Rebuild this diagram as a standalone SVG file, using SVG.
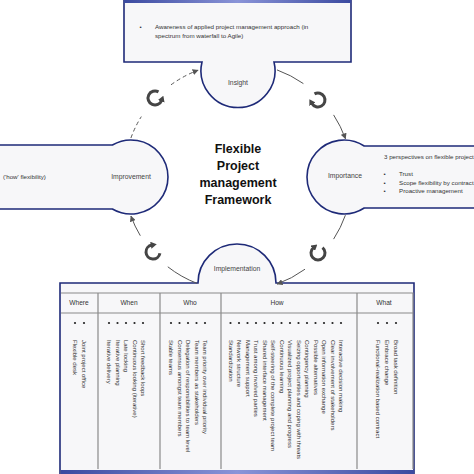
<svg xmlns="http://www.w3.org/2000/svg" width="474" height="474" viewBox="0 0 474 474">
<style>
.box{fill:#f7f7f9;stroke:#1e2a78;stroke-width:1.6}
.lbl{font-family:"Liberation Sans",Arial,sans-serif;font-size:6.8px;fill:#444;text-anchor:middle}
.txt{font-family:"Liberation Sans",Arial,sans-serif;font-size:6.2px;fill:#333}
.title{font-family:"Liberation Sans",Arial,sans-serif;font-size:12.5px;font-weight:bold;fill:#111;text-anchor:middle}
.hdr{font-family:"Liberation Sans",Arial,sans-serif;font-size:6.6px;fill:#333;text-anchor:middle}
.item{font-family:"Liberation Sans",Arial,sans-serif;font-size:6px;fill:#333}
.grid{stroke:#8a8a8a;stroke-width:1.2;fill:none}
.conn{fill:none;stroke:#555;stroke-width:1}
.icon{fill:none;stroke:#454545;stroke-width:3;marker-end:url(#ih)}
.dot{fill:#222}
</style>
<defs>
<marker id="ah" markerWidth="6" markerHeight="6" viewBox="0 0 6 6" refX="5.5" refY="3" orient="auto" markerUnits="userSpaceOnUse">
<path d="M0,0 L6,3 L0,6 z" fill="#555"/>
</marker>
<marker id="ih" markerWidth="6" markerHeight="7" viewBox="0 0 6 7" refX="1" refY="3.5" orient="auto" markerUnits="userSpaceOnUse">
<path d="M0,0 L6,3.5 L0,7 z" fill="#454545"/>
</marker>
<linearGradient id="band" x1="0" y1="0" x2="1" y2="0">
<stop offset="0" stop-color="#3b4aa0"/>
<stop offset="0.5" stop-color="#8a94d8"/>
<stop offset="1" stop-color="#3b4aa0"/>
</linearGradient>
</defs>

<g id="insight">
<path class="box" d="M124,-2 V62 H202 A37,37 0 1 0 274,62 H351 V-2 Z"/>
<rect x="124" y="0" width="227" height="3" fill="url(#band)"/>
<text class="txt" x="139.5" y="29">•</text>
<text class="txt" x="155" y="29">Awareness of applied project management approach (in</text>
<text class="txt" x="155" y="38">spectrum from waterfall to Agile)</text>
<text class="lbl" x="238" y="85">Insight</text>
</g>

<g id="improvement">
<path class="box" d="M-2,145 H112.4 A37,37 0 1 1 112.4,209 H-2 Z"/>
<text class="txt" x="3" y="179">('how' flexibility)</text>
<text class="lbl" x="131" y="179">Improvement</text>
</g>

<g id="importance">
<path class="box" d="M476,146 H364.2 A37,37 0 1 0 364.2,208 H476 Z"/>
<text class="lbl" x="345" y="178">Importance</text>
<text class="txt" x="384" y="159">3 perspectives on flexible project</text>
<text class="txt" x="383.5" y="176">•</text>
<text class="txt" x="399" y="176">Trust</text>
<text class="txt" x="383.5" y="184.5">•</text>
<text class="txt" x="399" y="184.5">Scope flexibility by contract</text>
<text class="txt" x="383.5" y="193">•</text>
<text class="txt" x="399" y="193">Proactive management</text>
</g>

<g id="title">
<text class="title" x="238" y="153">Flexible</text>
<text class="title" x="238" y="170">Project</text>
<text class="title" x="238" y="187">management</text>
<text class="title" x="238" y="204">Framework</text>
</g>

<g id="implementation">
<path class="box" d="M60,476 V283 H198 A39,39 0 1 1 276,283 H414 V476 Z"/>
<rect x="61" y="470" width="353" height="4" fill="url(#band)"/>
<text class="lbl" x="237" y="271">Implementation</text>
<path class="grid" d="M61,293 H413 V469 M61,313 H413 M98,293 V469 M160,293 V469 M221,293 V469 M357,293 V469"/>
<text class="hdr" x="79" y="305">Where</text>
<text class="hdr" x="129" y="305">When</text>
<text class="hdr" x="190" y="305">Who</text>
<text class="hdr" x="277" y="305">How</text>
<text class="hdr" x="384" y="305">What</text>
<g id="bullets">
<circle class="dot" cx="75" cy="323" r="1.1"/><circle class="dot" cx="84" cy="323" r="1.1"/>
<circle class="dot" cx="109" cy="323" r="1.1"/><circle class="dot" cx="117.5" cy="323" r="1.1"/><circle class="dot" cx="126" cy="323" r="1.1"/><circle class="dot" cx="134.5" cy="323" r="1.1"/><circle class="dot" cx="143" cy="323" r="1.1"/>
<circle class="dot" cx="171" cy="323" r="1.1"/><circle class="dot" cx="179.5" cy="323" r="1.1"/><circle class="dot" cx="188" cy="323" r="1.1"/><circle class="dot" cx="196.5" cy="323" r="1.1"/><circle class="dot" cx="205" cy="323" r="1.1"/>
<circle class="dot" cx="230.5" cy="323" r="1.1"/><circle class="dot" cx="239" cy="323" r="1.1"/><circle class="dot" cx="247.5" cy="323" r="1.1"/><circle class="dot" cx="256" cy="323" r="1.1"/><circle class="dot" cx="264.5" cy="323" r="1.1"/><circle class="dot" cx="273" cy="323" r="1.1"/><circle class="dot" cx="281.5" cy="323" r="1.1"/><circle class="dot" cx="290" cy="323" r="1.1"/><circle class="dot" cx="298.5" cy="323" r="1.1"/><circle class="dot" cx="307" cy="323" r="1.1"/><circle class="dot" cx="315.5" cy="323" r="1.1"/><circle class="dot" cx="324" cy="323" r="1.1"/><circle class="dot" cx="332.5" cy="323" r="1.1"/><circle class="dot" cx="341" cy="323" r="1.1"/>
<circle class="dot" cx="378" cy="323" r="1.1"/><circle class="dot" cx="387" cy="323" r="1.1"/><circle class="dot" cx="396" cy="323" r="1.1"/>
</g>
<g id="items">
<text class="item" transform="translate(82,340) rotate(90)">Joint project office</text>
<text class="item" transform="translate(73,340) rotate(90)">Flexible desk</text>
<text class="item" transform="translate(141,340) rotate(90)">Short feedback loops</text>
<text class="item" transform="translate(132.5,340) rotate(90)">Continuous looking (iterative)</text>
<text class="item" transform="translate(124,340) rotate(90)">Late locking</text>
<text class="item" transform="translate(115.5,340) rotate(90)">Iterative planning</text>
<text class="item" transform="translate(107,340) rotate(90)">Iterative delivery</text>
<text class="item" transform="translate(203,340) rotate(90)">Team priority over individual priority</text>
<text class="item" transform="translate(194.5,340) rotate(90)">Team members as stakeholders</text>
<text class="item" transform="translate(186,340) rotate(90)">Delegation of responsibilities to team level</text>
<text class="item" transform="translate(177.5,340) rotate(90)">Consensus amongst team members</text>
<text class="item" transform="translate(169,340) rotate(90)">Stable teams</text>
<text class="item" transform="translate(339,340) rotate(90)">Interactive decision making</text>
<text class="item" transform="translate(330.5,340) rotate(90)">Clear involvement of stakeholders</text>
<text class="item" transform="translate(322,340) rotate(90)">Open information exchange</text>
<text class="item" transform="translate(313.5,340) rotate(90)">Possible alternatives</text>
<text class="item" transform="translate(305,340) rotate(90)">Contingency planning</text>
<text class="item" transform="translate(296.5,340) rotate(90)">Seizing opportunities and coping with threats</text>
<text class="item" transform="translate(288,340) rotate(90)">Visualized project planning and progress</text>
<text class="item" transform="translate(279.5,340) rotate(90)">Continuous learning</text>
<text class="item" transform="translate(271,340) rotate(90)">Self-steering of the complete project team</text>
<text class="item" transform="translate(262.5,340) rotate(90)">Shared interface management</text>
<text class="item" transform="translate(254,340) rotate(90)">Trust among involved parties</text>
<text class="item" transform="translate(245.5,340) rotate(90)">Management support</text>
<text class="item" transform="translate(237,340) rotate(90)">Network structure</text>
<text class="item" transform="translate(228.5,340) rotate(90)">Standardization</text>
<text class="item" transform="translate(394,340) rotate(90)">Broad task definition</text>
<text class="item" transform="translate(385,340) rotate(90)">Embrace change</text>
<text class="item" transform="translate(376,340) rotate(90)">Functional-realization based contract</text>
</g>
</g>

<g id="connectors">
<path class="conn" stroke-dasharray="4 3" d="M130.9,138 A114,114 0 0 1 141.3,116.6"/>
<path class="conn" stroke-dasharray="4 3" marker-end="url(#ah)" d="M171,84.8 A114,114 0 0 1 198.1,70.2"/>
<path class="conn" d="M277,69.9 A114,114 0 0 1 303.4,83.6"/>
<path class="conn" marker-end="url(#ah)" d="M333.6,114.9 A114,114 0 0 1 345.5,138.9"/>
<path class="conn" d="M345.4,215.2 A114,114 0 0 1 333.6,239.1"/>
<path class="conn" marker-end="url(#ah)" d="M305,269.2 A114,114 0 0 1 277,284.1"/>
<path class="conn" d="M197.1,283.4 A114,114 0 0 1 167.8,266.8"/>
<path class="conn" marker-end="url(#ah)" d="M140.3,235.7 A114,114 0 0 1 130.9,216"/>
<path class="icon" d="M158.5,91.9 A7,7 0 1 0 161.6,100.4"/>
<path class="icon" d="M314.5,93.9 A7,7 0 1 1 311.9,103.5"/>
<path class="icon" d="M159.9,253.2 A7,7 0 1 1 151.8,245.1"/>
<path class="icon" d="M322.5,247.6 A7,7 0 1 1 313.5,247.6"/>
</g>
</svg>
